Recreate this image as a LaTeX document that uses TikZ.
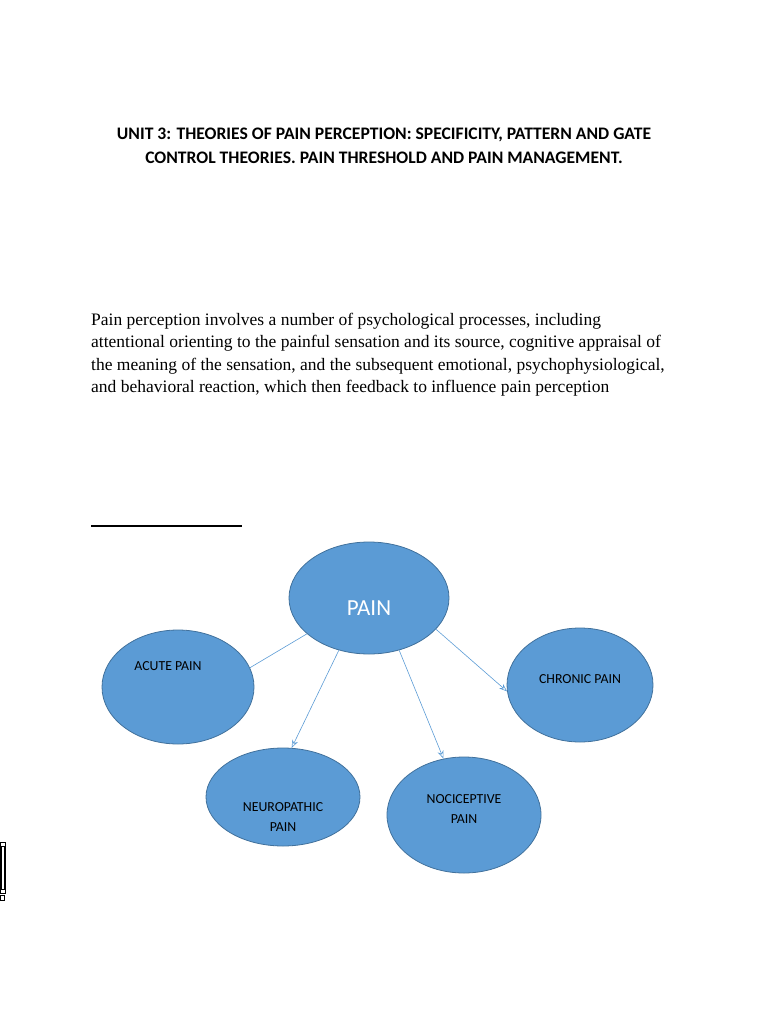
\documentclass[tikz,border=0pt]{standalone}
\usepackage{fontspec}
\setmainfont{Liberation Serif}
\newfontfamily\calfont{Carlito}
\usetikzlibrary{arrows.meta,shapes.geometric}
\definecolor{bfill}{HTML}{5B9BD5}
\definecolor{bdraw}{HTML}{41719C}
\begin{document}
\begin{tikzpicture}[x=1pt,y=-1pt,
  bub/.style={ellipse,draw=bdraw,fill=bfill,line width=0.8pt},
  lab/.style={font=\calfont\fontsize{13.8}{20}\selectfont,align=center},
  con/.style={draw=bfill,line width=0.6pt},
  arr/.style={con,-{Stealth[length=8pt,width=6pt,open]}}]
\useasboundingbox (0,0) rectangle (768,1024);
\node[font=\calfont\bfseries\fontsize{17.6}{24}\selectfont,align=center] (title) at (384,146)
 {UNIT 3: THEORIES OF PAIN PERCEPTION: SPECIFICITY, PATTERN AND GATE\\CONTROL THEORIES. PAIN THRESHOLD AND PAIN MANAGEMENT.};
\node[anchor=north west,inner sep=0,font=\fontsize{17.5}{22.4}\selectfont,align=left] (para) at (91,313)
 {Pain perception involves a number of psychological processes, including\\
 attentional orienting to the painful sensation and its source, cognitive appraisal of\\
 the meaning of the sensation, and the subsequent emotional, psychophysiological,\\
 and behavioral reaction, which then feedback to influence pain perception};
\draw[line width=1.5pt] (91,526) -- (242,526);
\draw[line width=0.6pt] (0,842) rectangle (5,893);
\draw[line width=0.6pt] (1,846) rectangle (4,889);
\draw[line width=0.6pt] (0,895) rectangle (4,900);
\path (369,598) node[bub,minimum width=160pt,minimum height=112pt] (pain) {};
\node[font=\calfont\fontsize{23}{24}\selectfont,text=white] at (369,608) {PAIN};
\path (178,687) node[bub,minimum width=152pt,minimum height=114pt] (acute) {};
\node[lab] at (168,666) {ACUTE PAIN};
\path (580,685) node[bub,minimum width=146pt,minimum height=114pt] (chronic) {};
\node[lab] at (580,679) {CHRONIC PAIN};
\path (283,797) node[bub,minimum width=154pt,minimum height=98pt] (neuro) {};
\node[lab] at (283,817) {NEUROPATHIC\\PAIN};
\path (464,815) node[bub,minimum width=154pt,minimum height=116pt] (noci) {};
\node[lab] at (464,809) {NOCICEPTIVE\\PAIN};
\draw[con] (pain.{-150}) -- (acute.{15});
\draw[arr] (pain.{-120}) -- (neuro.{80});
\draw[arr] (pain.{-60}) -- (noci.{110});
\draw[arr] (pain.{-25}) -- (chronic.{185});
\end{tikzpicture}
\end{document}
